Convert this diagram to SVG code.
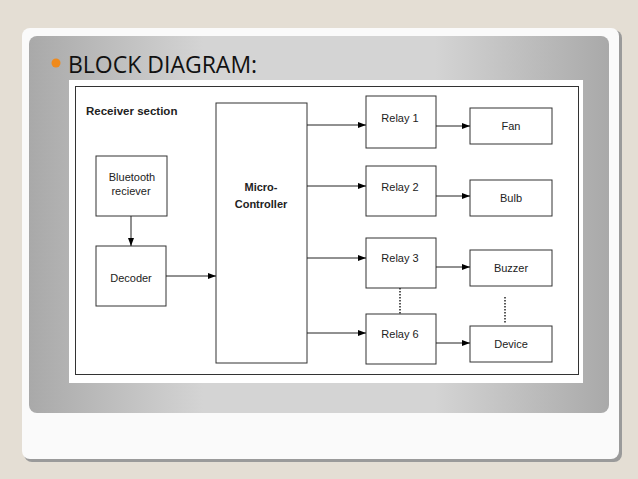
<svg xmlns="http://www.w3.org/2000/svg" width="638" height="479" viewBox="0 0 638 479">
<defs>
<linearGradient id="g" x1="0" y1="0" x2="1" y2="0">
<stop offset="0" stop-color="#a9a9a9"/><stop offset="0.3" stop-color="#d4d4d4"/><stop offset="0.7" stop-color="#d4d4d4"/><stop offset="1" stop-color="#a9a9a9"/>
</linearGradient>
<marker id="a" markerWidth="8" markerHeight="6" refX="8" refY="3" orient="auto" markerUnits="userSpaceOnUse"><path d="M0,0L8,3L0,6z" fill="#000"/></marker>
</defs>
<style>
.b{fill:#fff;stroke:#333;stroke-width:1}
.t{font-family:Arial,"Liberation Sans",sans-serif;font-size:11px;fill:#222;text-anchor:middle}
.c{stroke:#222;stroke-width:1;fill:none;marker-end:url(#a)}
.d{stroke:#222;stroke-width:1.5;stroke-dasharray:1.5 1.5;fill:none}
</style>
<rect width="638" height="479" fill="#e4ded4"/>
<rect x="24" y="30" width="598" height="432" rx="8" fill="#9a9a9a"/>
<rect x="22" y="28" width="597" height="431" rx="8" fill="#fafafa"/>
<rect x="29" y="36" width="580" height="377" rx="8" fill="url(#g)"/>
<circle cx="56" cy="63" r="4.5" fill="#f08a1c"/>
<text x="68" y="73" font-family="'Open Sans','DejaVu Sans',sans-serif" font-size="23" fill="#111">BLOCK DIAGRAM:</text>
<rect x="69" y="80" width="514" height="303" fill="#fff"/>
<rect x="75.5" y="86.5" width="503" height="288" fill="none" stroke="#333" stroke-width="1"/>
<text x="86" y="115" font-family="Arial,'Liberation Sans',sans-serif" font-size="11.5" font-weight="bold" fill="#222">Receiver section</text>
<g id="bt"><rect class="b" x="96" y="156" width="71" height="60"/><text class="t" x="132" y="181" font-size="10">Bluetooth</text><text class="t" x="131" y="195" font-size="10">reciever</text></g>
<g id="decoder"><rect class="b" x="96" y="246" width="70" height="60"/><text class="t" x="131" y="282">Decoder</text></g>
<g id="mc"><rect class="b" x="216" y="103" width="91" height="260"/><text class="t" x="261" y="191" font-size="14" font-weight="bold">Micro-</text><text class="t" x="261" y="208" font-size="14" font-weight="bold">Controller</text></g>
<g id="relay1"><rect class="b" x="366" y="96" width="70" height="52"/><text class="t" x="400" y="122">Relay 1</text></g>
<g id="fan"><rect class="b" x="470" y="108" width="82" height="36"/><text class="t" x="511" y="130">Fan</text></g>
<g id="relay2"><rect class="b" x="366" y="166" width="70" height="50"/><text class="t" x="400" y="191">Relay 2</text></g>
<g id="bulb"><rect class="b" x="470" y="180" width="82" height="36"/><text class="t" x="511" y="202">Bulb</text></g>
<g id="relay3"><rect class="b" x="366" y="238" width="70" height="50"/><text class="t" x="400" y="262">Relay 3</text></g>
<g id="buzzer"><rect class="b" x="470" y="250" width="82" height="36"/><text class="t" x="511" y="272">Buzzer</text></g>
<g id="relay6"><rect class="b" x="366" y="314" width="70" height="50"/><text class="t" x="400" y="338">Relay 6</text></g>
<g id="device"><rect class="b" x="470" y="326" width="82" height="36"/><text class="t" x="511" y="348">Device</text></g>
<g id="connectors">
<line class="c" x1="131" y1="216" x2="131" y2="246"/>
<line class="c" x1="166" y1="276" x2="216" y2="276"/>
<line class="c" x1="307" y1="125" x2="366" y2="125"/>
<line class="c" x1="307" y1="186" x2="366" y2="186"/>
<line class="c" x1="307" y1="258" x2="366" y2="258"/>
<line class="c" x1="307" y1="333" x2="366" y2="333"/>
<line class="c" x1="436" y1="126" x2="470" y2="126"/>
<line class="c" x1="436" y1="196" x2="470" y2="196"/>
<line class="c" x1="436" y1="267" x2="470" y2="267"/>
<line class="c" x1="436" y1="343" x2="470" y2="343"/>
<line class="d" x1="400" y1="288" x2="400" y2="314"/>
<line class="d" x1="505" y1="297" x2="505" y2="323"/>
</g>
</svg>
